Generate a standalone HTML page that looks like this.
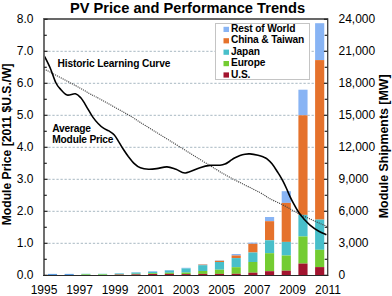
<!DOCTYPE html><html><head><meta charset="utf-8"><style>html,body{margin:0;padding:0;background:#fff;overflow:hidden}svg{display:block}text{font-family:"Liberation Sans",sans-serif}</style></head><body>
<svg width="392" height="296" viewBox="0 0 392 296">
<rect width="392" height="296" fill="#fff"/>
<line x1="48.3" y1="243.3" x2="326" y2="243.3" stroke="#a8b8c2" stroke-width="1" stroke-dasharray="2.3 1.75"/>
<line x1="48.3" y1="211.3" x2="326" y2="211.3" stroke="#a8b8c2" stroke-width="1" stroke-dasharray="2.3 1.75"/>
<line x1="48.3" y1="179.3" x2="326" y2="179.3" stroke="#a8b8c2" stroke-width="1" stroke-dasharray="2.3 1.75"/>
<line x1="48.3" y1="147.3" x2="326" y2="147.3" stroke="#a8b8c2" stroke-width="1" stroke-dasharray="2.3 1.75"/>
<line x1="48.3" y1="115.3" x2="326" y2="115.3" stroke="#a8b8c2" stroke-width="1" stroke-dasharray="2.3 1.75"/>
<line x1="48.3" y1="83.3" x2="326" y2="83.3" stroke="#a8b8c2" stroke-width="1" stroke-dasharray="2.3 1.75"/>
<line x1="48.3" y1="51.3" x2="326" y2="51.3" stroke="#a8b8c2" stroke-width="1" stroke-dasharray="2.3 1.75"/>
<rect x="47.90" y="273.90" width="9.15" height="1.10" fill="#5b9be0"/>
<rect x="64.60" y="273.90" width="9.15" height="1.10" fill="#5b9be0"/>
<rect x="81.30" y="273.80" width="9.15" height="0.60" fill="#48bfca"/>
<rect x="81.30" y="274.40" width="9.15" height="0.60" fill="#74cc32"/>
<rect x="98.00" y="273.80" width="9.15" height="0.60" fill="#48bfca"/>
<rect x="98.00" y="274.40" width="9.15" height="0.60" fill="#74cc32"/>
<rect x="114.70" y="273.20" width="9.15" height="0.30" fill="#88b4f4"/>
<rect x="114.70" y="273.50" width="9.15" height="0.70" fill="#48bfca"/>
<rect x="114.70" y="274.20" width="9.15" height="0.40" fill="#74cc32"/>
<rect x="114.70" y="274.60" width="9.15" height="0.40" fill="#a2142f"/>
<rect x="131.40" y="272.20" width="9.15" height="0.40" fill="#88b4f4"/>
<rect x="131.40" y="272.60" width="9.15" height="1.20" fill="#48bfca"/>
<rect x="131.40" y="273.80" width="9.15" height="0.60" fill="#74cc32"/>
<rect x="131.40" y="274.40" width="9.15" height="0.60" fill="#a2142f"/>
<rect x="148.10" y="271.20" width="9.15" height="0.60" fill="#88b4f4"/>
<rect x="148.10" y="271.80" width="9.15" height="1.40" fill="#48bfca"/>
<rect x="148.10" y="273.20" width="9.15" height="0.80" fill="#74cc32"/>
<rect x="148.10" y="274.00" width="9.15" height="1.00" fill="#a2142f"/>
<rect x="164.80" y="270.00" width="9.15" height="0.60" fill="#88b4f4"/>
<rect x="164.80" y="270.60" width="9.15" height="2.20" fill="#48bfca"/>
<rect x="164.80" y="272.80" width="9.15" height="1.10" fill="#74cc32"/>
<rect x="164.80" y="273.90" width="9.15" height="1.10" fill="#a2142f"/>
<rect x="181.50" y="267.80" width="9.15" height="0.60" fill="#88b4f4"/>
<rect x="181.50" y="268.40" width="9.15" height="4.20" fill="#48bfca"/>
<rect x="181.50" y="272.60" width="9.15" height="1.50" fill="#74cc32"/>
<rect x="181.50" y="274.10" width="9.15" height="0.90" fill="#a2142f"/>
<rect x="198.20" y="264.20" width="9.15" height="0.40" fill="#88b4f4"/>
<rect x="198.20" y="264.60" width="9.15" height="0.60" fill="#e5722c"/>
<rect x="198.20" y="265.20" width="9.15" height="5.80" fill="#48bfca"/>
<rect x="198.20" y="271.00" width="9.15" height="2.90" fill="#74cc32"/>
<rect x="198.20" y="273.90" width="9.15" height="1.10" fill="#a2142f"/>
<rect x="214.90" y="260.40" width="9.15" height="0.40" fill="#88b4f4"/>
<rect x="214.90" y="260.80" width="9.15" height="1.20" fill="#e5722c"/>
<rect x="214.90" y="262.00" width="9.15" height="7.70" fill="#48bfca"/>
<rect x="214.90" y="269.70" width="9.15" height="4.20" fill="#74cc32"/>
<rect x="214.90" y="273.90" width="9.15" height="1.10" fill="#a2142f"/>
<rect x="231.60" y="254.00" width="9.15" height="1.50" fill="#88b4f4"/>
<rect x="231.60" y="255.50" width="9.15" height="2.60" fill="#e5722c"/>
<rect x="231.60" y="258.10" width="9.15" height="9.10" fill="#48bfca"/>
<rect x="231.60" y="267.20" width="9.15" height="6.60" fill="#74cc32"/>
<rect x="231.60" y="273.80" width="9.15" height="1.20" fill="#a2142f"/>
<rect x="248.30" y="242.60" width="9.15" height="1.20" fill="#88b4f4"/>
<rect x="248.30" y="243.80" width="9.15" height="8.70" fill="#e5722c"/>
<rect x="248.30" y="252.50" width="9.15" height="9.50" fill="#48bfca"/>
<rect x="248.30" y="262.00" width="9.15" height="10.70" fill="#74cc32"/>
<rect x="248.30" y="272.70" width="9.15" height="2.30" fill="#a2142f"/>
<rect x="265.00" y="217.00" width="9.15" height="4.20" fill="#88b4f4"/>
<rect x="265.00" y="221.20" width="9.15" height="19.10" fill="#e5722c"/>
<rect x="265.00" y="240.30" width="9.15" height="12.90" fill="#48bfca"/>
<rect x="265.00" y="253.20" width="9.15" height="18.00" fill="#74cc32"/>
<rect x="265.00" y="271.20" width="9.15" height="3.80" fill="#a2142f"/>
<rect x="281.70" y="191.20" width="9.15" height="11.70" fill="#88b4f4"/>
<rect x="281.70" y="202.90" width="9.15" height="39.00" fill="#e5722c"/>
<rect x="281.70" y="241.90" width="9.15" height="13.60" fill="#48bfca"/>
<rect x="281.70" y="255.50" width="9.15" height="15.20" fill="#74cc32"/>
<rect x="281.70" y="270.70" width="9.15" height="4.30" fill="#a2142f"/>
<rect x="298.40" y="89.70" width="9.15" height="25.60" fill="#88b4f4"/>
<rect x="298.40" y="115.30" width="9.15" height="99.60" fill="#e5722c"/>
<rect x="298.40" y="214.90" width="9.15" height="21.60" fill="#48bfca"/>
<rect x="298.40" y="236.50" width="9.15" height="27.10" fill="#74cc32"/>
<rect x="298.40" y="263.60" width="9.15" height="11.40" fill="#a2142f"/>
<rect x="315.10" y="23.20" width="9.15" height="36.90" fill="#88b4f4"/>
<rect x="315.10" y="60.10" width="9.15" height="159.50" fill="#e5722c"/>
<rect x="315.10" y="219.60" width="9.15" height="30.20" fill="#48bfca"/>
<rect x="315.10" y="249.80" width="9.15" height="17.30" fill="#74cc32"/>
<rect x="315.10" y="267.10" width="9.15" height="7.90" fill="#a2142f"/>
<path d="M44.0 68.9 C49.2 71.7 67.7 81.3 75.4 85.5 C83.1 89.7 86.0 91.6 90.0 93.8 C94.0 96.0 92.8 95.1 99.5 98.8 C106.2 102.5 123.2 111.9 130.0 115.8 C136.8 119.7 133.3 118.0 140.0 122.2 C146.7 126.4 158.4 133.6 170.0 140.8 C181.6 148.0 199.7 159.3 209.7 165.4 C219.7 171.5 221.6 172.9 230.0 177.4 C238.4 181.9 253.3 189.0 260.0 192.6 C266.7 196.2 265.8 196.6 270.0 198.8 C274.2 201.0 280.0 203.4 285.0 206.0 C290.0 208.6 293.2 211.0 300.2 214.4 C307.2 217.8 322.5 224.5 327.0 226.5" fill="none" stroke="#444" stroke-width="1.15" stroke-dasharray="1.1 1.0"/>
<path d="M44.1 55.5 C45.1 57.5 48.0 62.9 50.0 67.5 C52.0 72.1 54.2 79.3 56.0 83.0 C57.8 86.7 58.9 87.5 60.8 89.5 C62.6 91.5 64.7 94.3 67.1 95.0 C69.5 95.7 73.1 93.3 75.4 93.8 C77.7 94.3 79.2 96.1 80.8 97.8 C82.4 99.5 83.6 101.8 84.9 103.9 C86.2 106.1 87.6 108.5 88.9 110.7 C90.2 113.0 91.5 115.3 93.0 117.4 C94.5 119.5 96.3 121.7 98.1 123.5 C99.8 125.3 101.7 127.0 103.5 128.2 C105.3 129.4 107.1 129.8 108.9 130.9 C110.7 132.0 112.6 133.1 114.3 135.0 C116.0 136.9 117.5 139.9 119.1 142.4 C120.7 144.9 122.3 147.7 123.8 150.0 C125.3 152.3 126.6 154.2 128.3 156.5 C130.1 158.8 132.3 161.7 134.3 163.6 C136.3 165.5 138.0 166.9 140.4 167.8 C142.8 168.7 145.8 169.1 148.5 169.2 C151.2 169.3 153.6 169.0 156.7 168.6 C159.8 168.2 163.8 166.8 167.0 166.9 C170.2 167.0 172.9 168.3 176.0 169.3 C179.1 170.3 181.4 173.3 185.4 173.0 C189.4 172.7 195.9 169.0 200.0 167.7 C204.1 166.4 206.7 165.8 210.0 165.4 C213.3 165.0 217.5 165.4 220.0 165.2 C222.5 165.0 223.3 164.8 225.0 164.1 C226.7 163.4 228.3 162.1 230.0 161.0 C231.7 159.9 233.3 158.7 235.0 157.8 C236.7 156.9 238.3 156.1 240.0 155.5 C241.7 154.9 243.3 154.5 245.0 154.2 C246.7 153.9 247.8 153.7 250.0 153.9 C252.2 154.1 255.8 154.8 258.0 155.3 C260.2 155.8 261.5 156.2 263.0 156.8 C264.5 157.4 265.5 157.6 267.0 158.8 C268.5 160.0 270.3 161.7 272.0 163.8 C273.7 165.9 275.7 169.2 277.0 171.2 C278.3 173.2 279.0 174.1 280.0 175.8 C281.0 177.5 282.0 179.2 283.1 181.3 C284.2 183.4 285.4 186.0 286.5 188.5 C287.6 191.0 288.7 193.8 289.9 196.4 C291.1 199.0 292.4 201.5 293.9 204.1 C295.3 206.7 297.0 209.8 298.6 212.2 C300.2 214.6 301.7 216.4 303.6 218.6 C305.6 220.8 307.8 223.3 310.3 225.4 C312.8 227.5 316.1 229.8 318.8 231.3 C321.5 232.9 325.1 234.1 326.4 234.7" fill="none" stroke="#000" stroke-width="1.6"/>
<path d="M44 275.5 V19 H327.7" fill="none" stroke="#686868" stroke-width="1.9"/>
<line x1="327.7" y1="18.2" x2="327.7" y2="276" stroke="#3c3c3c" stroke-width="1.3"/>
<line x1="43" y1="275.5" x2="328.3" y2="275.5" stroke="#2a2a2a" stroke-width="1.1"/>
<line x1="44" y1="275.3" x2="47.6" y2="275.3" stroke="#222" stroke-width="1.2"/>
<line x1="323.9" y1="275.3" x2="327.5" y2="275.3" stroke="#222" stroke-width="1.2"/>
<line x1="44" y1="259.3" x2="46.8" y2="259.3" stroke="#222" stroke-width="1.2"/>
<line x1="324.7" y1="259.3" x2="327.5" y2="259.3" stroke="#222" stroke-width="1.2"/>
<line x1="44" y1="243.3" x2="47.6" y2="243.3" stroke="#222" stroke-width="1.2"/>
<line x1="323.9" y1="243.3" x2="327.5" y2="243.3" stroke="#222" stroke-width="1.2"/>
<line x1="44" y1="227.3" x2="46.8" y2="227.3" stroke="#222" stroke-width="1.2"/>
<line x1="324.7" y1="227.3" x2="327.5" y2="227.3" stroke="#222" stroke-width="1.2"/>
<line x1="44" y1="211.3" x2="47.6" y2="211.3" stroke="#222" stroke-width="1.2"/>
<line x1="323.9" y1="211.3" x2="327.5" y2="211.3" stroke="#222" stroke-width="1.2"/>
<line x1="44" y1="195.3" x2="46.8" y2="195.3" stroke="#222" stroke-width="1.2"/>
<line x1="324.7" y1="195.3" x2="327.5" y2="195.3" stroke="#222" stroke-width="1.2"/>
<line x1="44" y1="179.3" x2="47.6" y2="179.3" stroke="#222" stroke-width="1.2"/>
<line x1="323.9" y1="179.3" x2="327.5" y2="179.3" stroke="#222" stroke-width="1.2"/>
<line x1="44" y1="163.3" x2="46.8" y2="163.3" stroke="#222" stroke-width="1.2"/>
<line x1="324.7" y1="163.3" x2="327.5" y2="163.3" stroke="#222" stroke-width="1.2"/>
<line x1="44" y1="147.3" x2="47.6" y2="147.3" stroke="#222" stroke-width="1.2"/>
<line x1="323.9" y1="147.3" x2="327.5" y2="147.3" stroke="#222" stroke-width="1.2"/>
<line x1="44" y1="131.3" x2="46.8" y2="131.3" stroke="#222" stroke-width="1.2"/>
<line x1="324.7" y1="131.3" x2="327.5" y2="131.3" stroke="#222" stroke-width="1.2"/>
<line x1="44" y1="115.3" x2="47.6" y2="115.3" stroke="#222" stroke-width="1.2"/>
<line x1="323.9" y1="115.3" x2="327.5" y2="115.3" stroke="#222" stroke-width="1.2"/>
<line x1="44" y1="99.3" x2="46.8" y2="99.3" stroke="#222" stroke-width="1.2"/>
<line x1="324.7" y1="99.3" x2="327.5" y2="99.3" stroke="#222" stroke-width="1.2"/>
<line x1="44" y1="83.3" x2="47.6" y2="83.3" stroke="#222" stroke-width="1.2"/>
<line x1="323.9" y1="83.3" x2="327.5" y2="83.3" stroke="#222" stroke-width="1.2"/>
<line x1="44" y1="67.3" x2="46.8" y2="67.3" stroke="#222" stroke-width="1.2"/>
<line x1="324.7" y1="67.3" x2="327.5" y2="67.3" stroke="#222" stroke-width="1.2"/>
<line x1="44" y1="51.3" x2="47.6" y2="51.3" stroke="#222" stroke-width="1.2"/>
<line x1="323.9" y1="51.3" x2="327.5" y2="51.3" stroke="#222" stroke-width="1.2"/>
<line x1="44" y1="35.3" x2="46.8" y2="35.3" stroke="#222" stroke-width="1.2"/>
<line x1="324.7" y1="35.3" x2="327.5" y2="35.3" stroke="#222" stroke-width="1.2"/>
<line x1="44" y1="19.3" x2="47.6" y2="19.3" stroke="#222" stroke-width="1.2"/>
<line x1="323.9" y1="19.3" x2="327.5" y2="19.3" stroke="#222" stroke-width="1.2"/>
<text x="33.5" y="279.3" font-size="12" text-anchor="end" fill="#000">0.0</text>
<text x="33.5" y="247.3" font-size="12" text-anchor="end" fill="#000">1.0</text>
<text x="33.5" y="215.3" font-size="12" text-anchor="end" fill="#000">2.0</text>
<text x="33.5" y="183.3" font-size="12" text-anchor="end" fill="#000">3.0</text>
<text x="33.5" y="151.3" font-size="12" text-anchor="end" fill="#000">4.0</text>
<text x="33.5" y="119.3" font-size="12" text-anchor="end" fill="#000">5.0</text>
<text x="33.5" y="87.3" font-size="12" text-anchor="end" fill="#000">6.0</text>
<text x="33.5" y="55.3" font-size="12" text-anchor="end" fill="#000">7.0</text>
<text x="33.5" y="23.3" font-size="12" text-anchor="end" fill="#000">8.0</text>
<text x="338.5" y="279.3" font-size="12" fill="#000">0</text>
<text x="338.5" y="247.3" font-size="12" fill="#000">3,000</text>
<text x="338.5" y="215.3" font-size="12" fill="#000">6,000</text>
<text x="338.5" y="183.3" font-size="12" fill="#000">9,000</text>
<text x="338.5" y="151.3" font-size="12" fill="#000">12,000</text>
<text x="338.5" y="119.3" font-size="12" fill="#000">15,000</text>
<text x="338.5" y="87.3" font-size="12" fill="#000">18,000</text>
<text x="338.5" y="55.3" font-size="12" fill="#000">21,000</text>
<text x="338.5" y="23.3" font-size="12" fill="#000">24,000</text>
<text x="44.0" y="293.8" font-size="12" text-anchor="middle" fill="#000">1995</text>
<text x="79.5" y="293.8" font-size="12" text-anchor="middle" fill="#000">1997</text>
<text x="115.0" y="293.8" font-size="12" text-anchor="middle" fill="#000">1999</text>
<text x="150.5" y="293.8" font-size="12" text-anchor="middle" fill="#000">2001</text>
<text x="186.0" y="293.8" font-size="12" text-anchor="middle" fill="#000">2003</text>
<text x="221.5" y="293.8" font-size="12" text-anchor="middle" fill="#000">2005</text>
<text x="257.0" y="293.8" font-size="12" text-anchor="middle" fill="#000">2007</text>
<text x="292.5" y="293.8" font-size="12" text-anchor="middle" fill="#000">2009</text>
<text x="328.0" y="293.8" font-size="12" text-anchor="middle" fill="#000">2011</text>
<text x="187.5" y="12.5" font-size="14.65" font-weight="bold" text-anchor="middle" fill="#000">PV Price and Performance Trends</text>
<text transform="translate(11.3,144.3) rotate(-90)" font-size="12.15" font-weight="bold" text-anchor="middle" fill="#000">Module Price [2011 $U.S./W]</text>
<text transform="translate(388.2,146.3) rotate(-90)" font-size="12.4" font-weight="bold" text-anchor="middle" fill="#000">Module Shipments [MW]</text>
<rect x="215.5" y="23.5" width="94" height="56" fill="#fff" stroke="#c4c4c4" stroke-width="1"/>
<rect x="223.5" y="26.8" width="5.5" height="5.2" fill="#88b4f4"/>
<text x="231" y="32.0" font-size="10.2" font-weight="bold" letter-spacing="-0.14" fill="#000">Rest of World</text>
<rect x="223.5" y="38.2" width="5.5" height="5.2" fill="#e5722c"/>
<text x="231" y="43.4" font-size="10.2" font-weight="bold" letter-spacing="-0.14" fill="#000">China &amp; Taiwan</text>
<rect x="223.5" y="49.6" width="5.5" height="5.2" fill="#48bfca"/>
<text x="231" y="54.8" font-size="10.2" font-weight="bold" letter-spacing="-0.14" fill="#000">Japan</text>
<rect x="223.5" y="61.0" width="5.5" height="5.2" fill="#74cc32"/>
<text x="231" y="66.2" font-size="10.2" font-weight="bold" letter-spacing="-0.14" fill="#000">Europe</text>
<rect x="223.5" y="72.4" width="5.5" height="5.2" fill="#a2142f"/>
<text x="231" y="77.6" font-size="10.2" font-weight="bold" letter-spacing="-0.14" fill="#000">U.S.</text>
<text x="57.5" y="67.2" font-size="10.2" font-weight="bold" letter-spacing="-0.12" fill="#000">Historic Learning Curve</text>
<text x="52.3" y="131.7" font-size="10.2" font-weight="bold" letter-spacing="-0.2" fill="#000">Average</text>
<text x="52.3" y="143.2" font-size="10.2" font-weight="bold" letter-spacing="-0.2" fill="#000">Module Price</text>
</svg></body></html>
